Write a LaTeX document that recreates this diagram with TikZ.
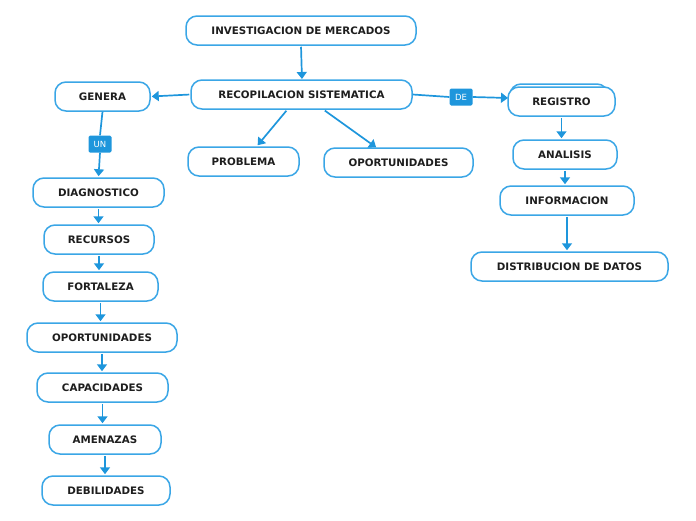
\documentclass[tikz,border=0pt]{standalone}
\usepackage{fontspec}
\setmainfont{DejaVu Sans}
\usetikzlibrary{arrows.meta}
\definecolor{boxline}{HTML}{3AA6E6}
\definecolor{arrowc}{HTML}{1E96DC}
\definecolor{tagc}{HTML}{1E96DC}
\definecolor{txt}{HTML}{1E1E1E}
\tikzset{
  box/.style={draw=boxline, line width=1.5pt, fill=white, rounded corners=11pt,
    minimum height=29pt, inner sep=0pt, font=\fontsize{10.3}{11}\selectfont\bfseries, text=txt},
  conn/.style={draw=arrowc, line width=1.7pt, -{Triangle[width=10pt,length=7pt]}, shorten <=1pt, shorten >=1pt},
  tag/.style={fill=tagc, text=white, rounded corners=1.5pt, inner sep=0pt, minimum width=23pt, minimum height=17pt, font=\fontsize{8.5}{9}\selectfont}
}
\begin{document}
\begin{tikzpicture}[x=1pt,y=-1pt]
\useasboundingbox (0,0) rectangle (696,520);
\node[box, minimum width=230pt] (inv) at (301,30.5) {INVESTIGACION DE MERCADOS};
\node[box, minimum width=221pt] (rec) at (301.5,94.5) {RECOPILACION SISTEMATICA};
\node[box, minimum width=95pt] (gen) at (102.5,96.5) {GENERA};
\node[box, minimum width=98pt] (regb) at (559,98.5) {};
\node[box, minimum width=107pt] (reg) at (561.5,101.5) {REGISTRO};
\node[box, minimum width=111pt] (prob) at (243.5,161.5) {PROBLEMA};
\node[box, minimum width=149pt] (opm) at (398.5,162.5) {OPORTUNIDADES};
\node[box, minimum width=104pt] (ana) at (565,154.5) {ANALISIS};
\node[box, minimum width=134pt] (info) at (567,200.5) {INFORMACION};
\node[box, minimum width=197pt] (dist) at (569.5,266.5) {DISTRIBUCION DE DATOS};
\node[box, minimum width=131pt] (diag) at (98.5,192.5) {DIAGNOSTICO};
\node[box, minimum width=110pt] (recu) at (99,239.5) {RECURSOS};
\node[box, minimum width=115pt] (fort) at (100.5,286.5) {FORTALEZA};
\node[box, minimum width=150pt] (opl) at (102,337.5) {OPORTUNIDADES};
\node[box, minimum width=131pt] (cap) at (102.5,387.5) {CAPACIDADES};
\node[box, minimum width=112pt] (ame) at (105,439.5) {AMENAZAS};
\node[box, minimum width=128pt] (deb) at (106,490.5) {DEBILIDADES};

\coordinate (rect) at (302,80);
\draw[conn] (inv.south) -- (rect);
\draw[conn] (rec.west) -- (gen.east);
\coordinate (recp) at (287,110);
\coordinate (probt) at (257,146);
\draw[conn] (recp) -- (probt);
\coordinate (reco) at (324,110);
\coordinate (opmt) at (377,148);
\draw[conn] (reco) -- (opmt);
\node[tag] (de) at (461,97) {DE};
\coordinate (regw) at (509,98);
\draw[draw=arrowc, line width=1.7pt] (rec.east) -- (de.west);
\draw[conn, shorten <=0pt] (de.east) -- (regw);
\node[tag] (un) at (100,144) {UN};
\draw[draw=arrowc, line width=1.7pt] (gen.south) -- (un.north);
\draw[conn, shorten <=0pt] (un.south) -- (diag.north);
\draw[conn] (reg.south) -- (ana.north -| reg.south);
\draw[conn] (ana.south) -- (info.north -| ana.south);
\draw[conn] (info.south) -- (dist.north -| info.south);
\draw[conn] (diag.south) -- (recu.north -| diag.south);
\draw[conn] (recu.south) -- (fort.north -| recu.south);
\draw[conn] (fort.south) -- (opl.north -| fort.south);
\draw[conn] (opl.south) -- (cap.north -| opl.south);
\draw[conn] (cap.south) -- (ame.north -| cap.south);
\draw[conn] (ame.south) -- (deb.north -| ame.south);
\end{tikzpicture}
\end{document}
